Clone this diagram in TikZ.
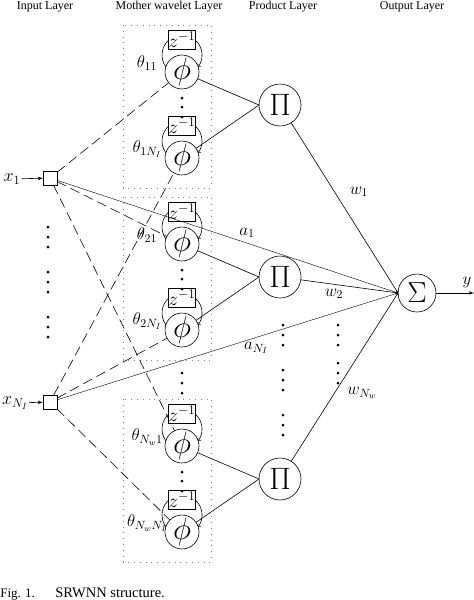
\RequirePackage{fix-cm}
\documentclass[tikz,border=0pt]{standalone}
\usepackage{fontspec}
\setmainfont{Liberation Serif}
\usetikzlibrary{positioning}

\begin{document}
\begin{tikzpicture}[x=1pt, y=1pt, line width=0.6pt,
	wav/.style={draw,circle,minimum size=34pt,inner sep=0pt,outer sep=0pt,font=\fontsize{31}{31}\selectfont},
	prd/.style={draw,circle,minimum size=42pt,inner sep=0pt,outer sep=0pt,font=\fontsize{31}{31}\selectfont},
	dly/.style={draw,fill=white,line width=0.8pt,minimum width=21pt,minimum height=19pt,inner sep=0pt,font=\fontsize{19}{19}\selectfont},
	inp/.style={draw,fill=white,minimum size=14pt,inner sep=0pt,outer sep=0pt},
	dt/.style={circle,fill=black,inner sep=0pt,minimum size=3pt},
	lbl/.style={font=\fontsize{17}{17}\selectfont,inner sep=1pt},
	hd/.style={font=\fontsize{12}{12}\selectfont,anchor=base,inner sep=0pt},
	grp/.style={gray,line width=0.5pt,dash pattern=on 0.8pt off 5pt},
	dsh/.style={dash pattern=on 10pt off 5pt}]
	\useasboundingbox (0,0) rectangle (474,-600);
	% layer titles
	\node[hd] (t1) at (45,-9) {Input Layer};
	\node[hd] (t2) at (169,-9) {Mother wavelet Layer};
	\node[hd] (t3) at (283,-9) {Product Layer};
	\node[hd] (t4) at (412,-9) {Output Layer};
	% inputs
	\node[inp] (in1) at (50,-178) {};
	\node[inp] (inN) at (50,-402) {};
	\node[lbl,font=\fontsize{18}{18}\selectfont] (x1) at (12,-179) {$x_1$};
	\node[lbl,font=\fontsize{18}{18}\selectfont] (xN) at (15,-403) {$x_{N_I}$};
	\draw[-latex] (x1) -- (in1);
	\draw[-latex] (xN) -- (inN);
	\foreach \d in {227,237,247,272,282,292,317,327,337}
		\node[dt] (di\d) at (48,-\d) {};
	% output
	\node[prd,minimum size=38pt,font=\fontsize{29}{29}\selectfont] (sg) at (417,-293) {$\Sigma$};
	\coordinate (yo) at (474,-293);
	\draw[-latex] (sg) -- (yo);
	\node[lbl] (ylab) at (467,-282) {$y$};
	% mother wavelet groups and product nodes
	\foreach \g/\yy/\ka/\kb in {1/25/11/1N_I, 2/197/21/2N_I, 3/399/{N_w1}/{N_wN_I}} {
		\draw[grp] (123,-\yy) rectangle (211,-\yy-163);
		\draw[dsh] (in1) -- (182,-\yy-47);
		\draw[dsh] (inN) -- (182,-\yy-133);
		\node[wav,fill=white] (p\g a) at (182,-\yy-47) {$\phi$};
		\node[wav,fill=white] (p\g b) at (182,-\yy-133) {$\phi$};
		\draw[->] (p\g a.162) arc[start angle=216,end angle=-36,radius=20pt];
		\draw[->] (p\g b.162) arc[start angle=216,end angle=-36,radius=20pt];
		\node[dly] (z\g a) at (182,-\yy-15) {$z^{-1}$};
		\node[dly] (z\g b) at (182,-\yy-101) {$z^{-1}$};
		\node[lbl] (th\g a) at (147,-\yy-38) {$\theta_{\ka}$};
		\node[lbl] (th\g b) at (147,-\yy-124) {$\theta_{\kb}$};
		\foreach \d in {73,82,92}
			\node[dt] (d\g\d) at (182,-\yy-\d) {};
		\node[prd] (m\g) at (280,-\yy-80) {$\Pi$};
		\draw (p\g a) -- (m\g.west);
		\draw (p\g b) -- (m\g.west);
		\draw[->] (m\g) -- (sg.west);
	}
	\foreach \d in {373,383,393}
		\node[dt] (dm\d) at (182,-\d) {};
	\foreach \d in {325,335,345,370,380,390,415,425,435}
		\node[dt] (dp\d) at (283,-\d) {};
	\foreach \d in {325,335,345,363,373,383}
		\node[dt] (dw\d) at (338,-\d) {};
	% direct input weights
	\draw[->,line width=0.4pt] (in1) -- (sg.west);
	\draw[->,line width=0.4pt] (inN) -- (sg.west);
	\node[lbl] (a1) at (247,-233) {$a_1$};
	\node[lbl] (aN) at (256,-348) {$a_{N_I}$};
	\node[lbl] (w1) at (359,-192) {$w_1$};
	\node[lbl] (w2) at (334,-294) {$w_2$};
	\node[lbl] (wN) at (362,-393) {$w_{N_w}$};
	% caption
	\node[anchor=base west,inner sep=0pt,font=\fontsize{13}{13}\selectfont] (cap1) at (0,-597) {Fig. 1.};
	\node[anchor=base west,inner sep=0pt,font=\fontsize{14.5}{14.5}\selectfont] (cap2) at (55,-597) {SRWNN structure.};
\end{tikzpicture}
\end{document}
